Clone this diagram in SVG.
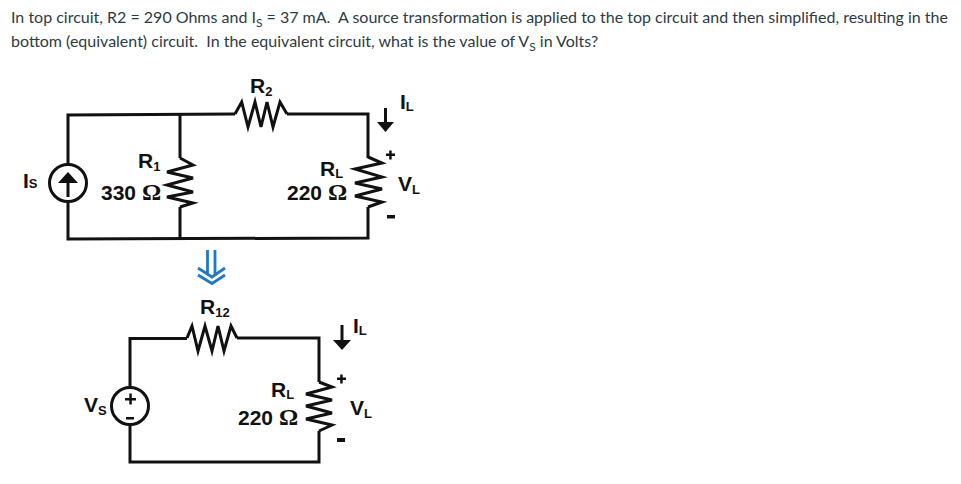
<svg xmlns="http://www.w3.org/2000/svg" width="961" height="484" viewBox="0 0 961 484">
<style>
.q{font-family:Lato,"Liberation Sans",sans-serif;font-size:16px;fill:#2d3b45;white-space:pre}
.qs{font-size:12px}
.l{font-family:"Liberation Sans",Arial,sans-serif;font-weight:bold;font-size:21px;fill:#111}
.w{font-family:"Liberation Serif",serif;font-weight:bold;font-size:24px}
.s{font-size:13px}
.wire{fill:none;stroke:#111;stroke-width:3}
.res{fill:none;stroke:#111;stroke-width:3;stroke-linejoin:miter}
.src{fill:#fff;stroke:#111;stroke-width:3}
.ar{fill:#111;stroke:none}
.sg{fill:#111;stroke:none}
.blue{fill:none;stroke:#1f7ac0;stroke-width:2.800}
</style>
<rect width="961" height="484" fill="#fff"/>
<g id="question">
<text class="q" x="11" y="23">In top circuit, R2 = 290 Ohms and I<tspan class="qs" dy="4">S</tspan><tspan dy="-4"> = 37 mA.  A source transformation is applied to the top circuit and then simplified, resulting in the</tspan></text>
<text class="q" x="11" y="47">bottom (equivalent) circuit.  In the equivalent circuit, what is the value of V<tspan class="qs" dy="4">S</tspan><tspan dy="-4"> in Volts?</tspan></text>
</g>
<g id="connectors">
<path class="wire" d="M68 165V115L235 114M287 114H368V158M368 207V238L68 239V201"/>
<path class="wire" d="M180 115V158M180 207V239"/>
<path class="wire" d="M130 388V338.500H187M237 338H319V382M319 431V462H130V424"/>
<path class="blue" d="M207.500 250V274M215 250V274M198 268L212 277L225 268M198 275L212 283.500L225 275"/>
</g>
<g id="R2">
<path class="res" d="M235 114L241.700 102L248 127L255 102L261 127L267 102L273 127L280 102L287 114"/>
<text class="l" x="250" y="93">R<tspan class="s" dy="3">2</tspan></text>
</g>
<g id="R1">
<path class="res" d="M180 158L193 165L167 172L193 178L167 185L193 192L167 197L193 203L180 207"/>
<text class="l" x="138" y="168">R<tspan class="s" dy="3">1</tspan></text>
<text class="l" x="101" y="200">330 <tspan class="w">Ω</tspan></text>
</g>
<g id="RL-top">
<path class="res" d="M368 157L382 163L355 169L382 177L355 183L382 189L355 196L382 202L368 207"/>
<text class="l" x="320" y="176">R<tspan class="s" dy="2">L</tspan></text>
<text class="l" x="287" y="200">220 <tspan class="w">Ω</tspan></text>
</g>
<g id="Is">
<circle class="src" cx="68" cy="183" r="18.500"/>
<path class="wire" d="M68 183V197"/>
<path class="ar" d="M58 183L68 172L78 183Z"/>
<text class="l" x="23" y="188">I<tspan class="s">S</tspan></text>
</g>
<g id="IL-top">
<path class="wire" d="M385.500 108V125"/>
<path class="ar" d="M377 122H394L385.500 132Z"/>
<text class="l" x="400" y="109">I<tspan class="s" dy="2">L</tspan></text>
</g>
<g id="VL-top">
<rect class="sg" x="386" y="153.500" width="9" height="2.500"/><rect class="sg" x="389.200" y="150.500" width="2.500" height="9"/>
<text class="l" x="398" y="191">V<tspan class="s" dy="3">L</tspan></text>
<rect class="sg" x="387" y="215" width="8" height="3.500"/>
</g>
<g id="Vs">
<circle class="src" cx="130" cy="406" r="18.500"/>
<rect class="sg" x="125" y="398" width="11" height="2.500"/><rect class="sg" x="129.300" y="393.500" width="2.500" height="11"/>
<rect class="sg" x="126" y="417" width="8" height="2.500"/>
<text class="l" x="84" y="412">V<tspan class="s" dy="3">S</tspan></text>
</g>
<g id="R12">
<path class="res" d="M187 338L192 326L198 351L205 326L212 351L218 326L224 351L231 326L237 338"/>
<text class="l" x="200" y="314">R<tspan class="s" dy="3">12</tspan></text>
</g>
<g id="RL-bottom">
<path class="res" d="M319 382L332 387L306 394L332 400L306 406L332 413L306 419L332 425L319 431"/>
<text class="l" x="271" y="397">R<tspan class="s" dy="2">L</tspan></text>
<text class="l" x="238" y="425">220 <tspan class="w">Ω</tspan></text>
</g>
<g id="IL-bottom">
<path class="wire" d="M342 325V343"/>
<path class="ar" d="M333 340H351L342 350Z"/>
<text class="l" x="353" y="333">I<tspan class="s" dy="2">L</tspan></text>
</g>
<g id="VL-bottom">
<rect class="sg" x="337" y="377.500" width="9" height="2.500"/><rect class="sg" x="340.200" y="374.500" width="2.500" height="9"/>
<text class="l" x="350" y="415">V<tspan class="s" dy="3">L</tspan></text>
<rect class="sg" x="337" y="438" width="8" height="4"/>
</g>
</svg>
